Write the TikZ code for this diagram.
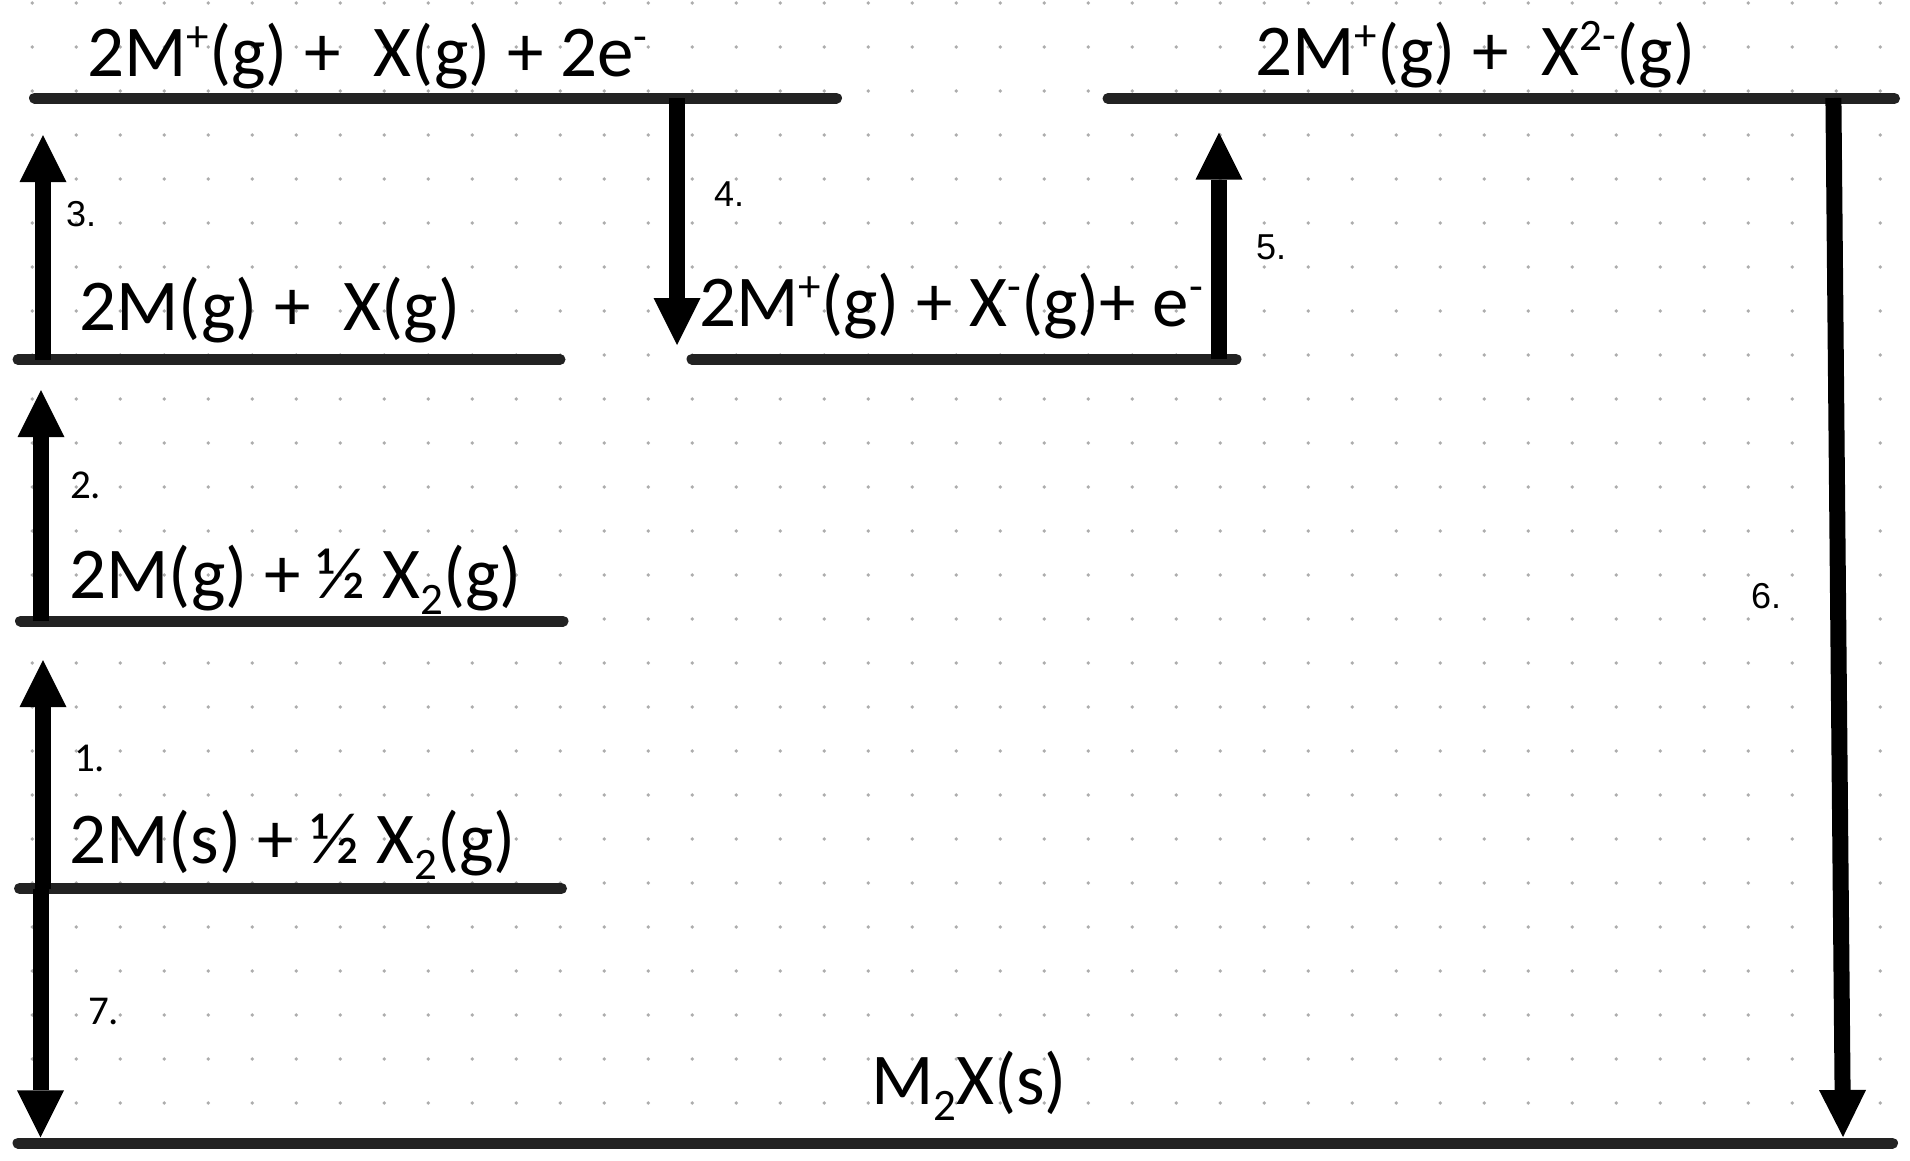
\documentclass[tikz,border=0pt]{standalone}
\usepackage{fontspec}
\setmainfont{Carlito}
\newfontfamily\lblfont{Liberation Sans}
\usetikzlibrary{arrows.meta}
\definecolor{levelgray}{HTML}{222222}
\definecolor{dotgray}{HTML}{ADADAD}
\newcommand\myup[1]{\raisebox{25pt}{\fontsize{45}{45}\selectfont #1}}
\newcommand\mydn[1]{\raisebox{-16pt}{\fontsize{45}{45}\selectfont #1}}
\begin{document}
\begin{tikzpicture}[x=1pt,y=-1pt,
  level/.style={line width=11pt, line cap=round, draw=levelgray},
  hessarrow/.style={line width=16pt, draw=black, -{Triangle[length=47pt,width=47pt,line width=0pt]}},
  formula/.style={anchor=base west, inner sep=0pt, font=\fontsize{73}{82}\selectfont},
  numA/.style={anchor=base west, inner sep=0pt, font=\lblfont\fontsize{36}{40}\selectfont},
  numB/.style={anchor=base west, inner sep=0pt, font=\fontsize{41}{45}\selectfont},
]
\useasboundingbox (0,0) rectangle (1910,1160);
\fill[white] (0,0) rectangle (1910,1160);
% dot grid
\foreach \i in {0,...,42}{
  \foreach \j in {0,...,26}{
    \fill[dotgray] (32.3+44*\i, 3+44*\j) circle (1.9);
  }
}
% level lines
\coordinate (l1a) at (34.5,98);   \coordinate (l1b) at (836.5,98);
\coordinate (l2a) at (1108,98.5); \coordinate (l2b) at (1894.5,98.5);
\coordinate (l3a) at (18,359.5);  \coordinate (l3b) at (560,359.5);
\coordinate (l4a) at (692,359);   \coordinate (l4b) at (1236,359);
\coordinate (l5a) at (20.5,621);  \coordinate (l5b) at (563,621);
\coordinate (l6a) at (19.5,888.5);\coordinate (l6b) at (561.5,888.5);
\coordinate (l7a) at (18,1143);   \coordinate (l7b) at (1892.5,1143);
\draw[level] (l1a) -- (l1b);
\draw[level] (l2a) -- (l2b);
\draw[level] (l3a) -- (l3b);
\draw[level] (l4a) -- (l4b);
\draw[level] (l5a) -- (l5b);
\draw[level] (l6a) -- (l6b);
\draw[level] (l7a) -- (l7b);
% formulas
\node[formula] (t1) at (87,76) {2M\myup{+}(g) +\ \ X(g) + 2e\myup{-}};
\node[formula] (t2) at (1255,75) {2M\myup{+}(g) +\ \ X\myup{2-}(g)};
\node[formula] (t3) at (79,330) {2M(g) +\ \ X(g)};
\node[formula] (t4) at (699,326.7) {2M\myup{+}(g) + X\myup{-}(g)+ e\myup{-}};
\node[formula] (t5) at (69,598.3) {2M(g) + ½ X\mydn{2}(g)};
\node[formula] (t6) at (69,863) {2M(s) + ½ X\mydn{2}(g)};
\node[formula] (t7) at (871,1104) {M\mydn{2}X(s)};
% arrows
\coordinate (a1s) at (43,888.5);   \coordinate (a1e) at (43,660);
\coordinate (a2s) at (41,621);     \coordinate (a2e) at (41,390);
\coordinate (a3s) at (43,359.5);   \coordinate (a3e) at (43,135);
\coordinate (a4s) at (677,98);     \coordinate (a4e) at (677,345);
\coordinate (a5s) at (1219,359);   \coordinate (a5e) at (1219,132.7);
\coordinate (a6s) at (1833.4,98);  \coordinate (a6e) at (1843,1137);
\coordinate (a7s) at (40.5,888.5); \coordinate (a7e) at (40.5,1137.3);
\draw[hessarrow] (a1s) -- (a1e);
\draw[hessarrow] (a2s) -- (a2e);
\draw[hessarrow] (a3s) -- (a3e);
\draw[hessarrow] (a4s) -- (a4e);
\draw[hessarrow] (a5s) -- (a5e);
\draw[hessarrow] (a6s) -- (a6e);
\draw[hessarrow] (a7s) -- (a7e);
% step labels
\node[numB] (n1) at (74,771.7) {1.};
\node[numB] (n2) at (70,498.3) {2.};
\node[numA] (n3) at (66,226.7) {3.};
\node[numA] (n4) at (714,206.7) {4.};
\node[numA] (n5) at (1256,259.3) {5.};
\node[numA] (n6) at (1751,608.8) {6.};
\node[numB] (n7) at (88,1024) {7.};
\end{tikzpicture}
\end{document}
